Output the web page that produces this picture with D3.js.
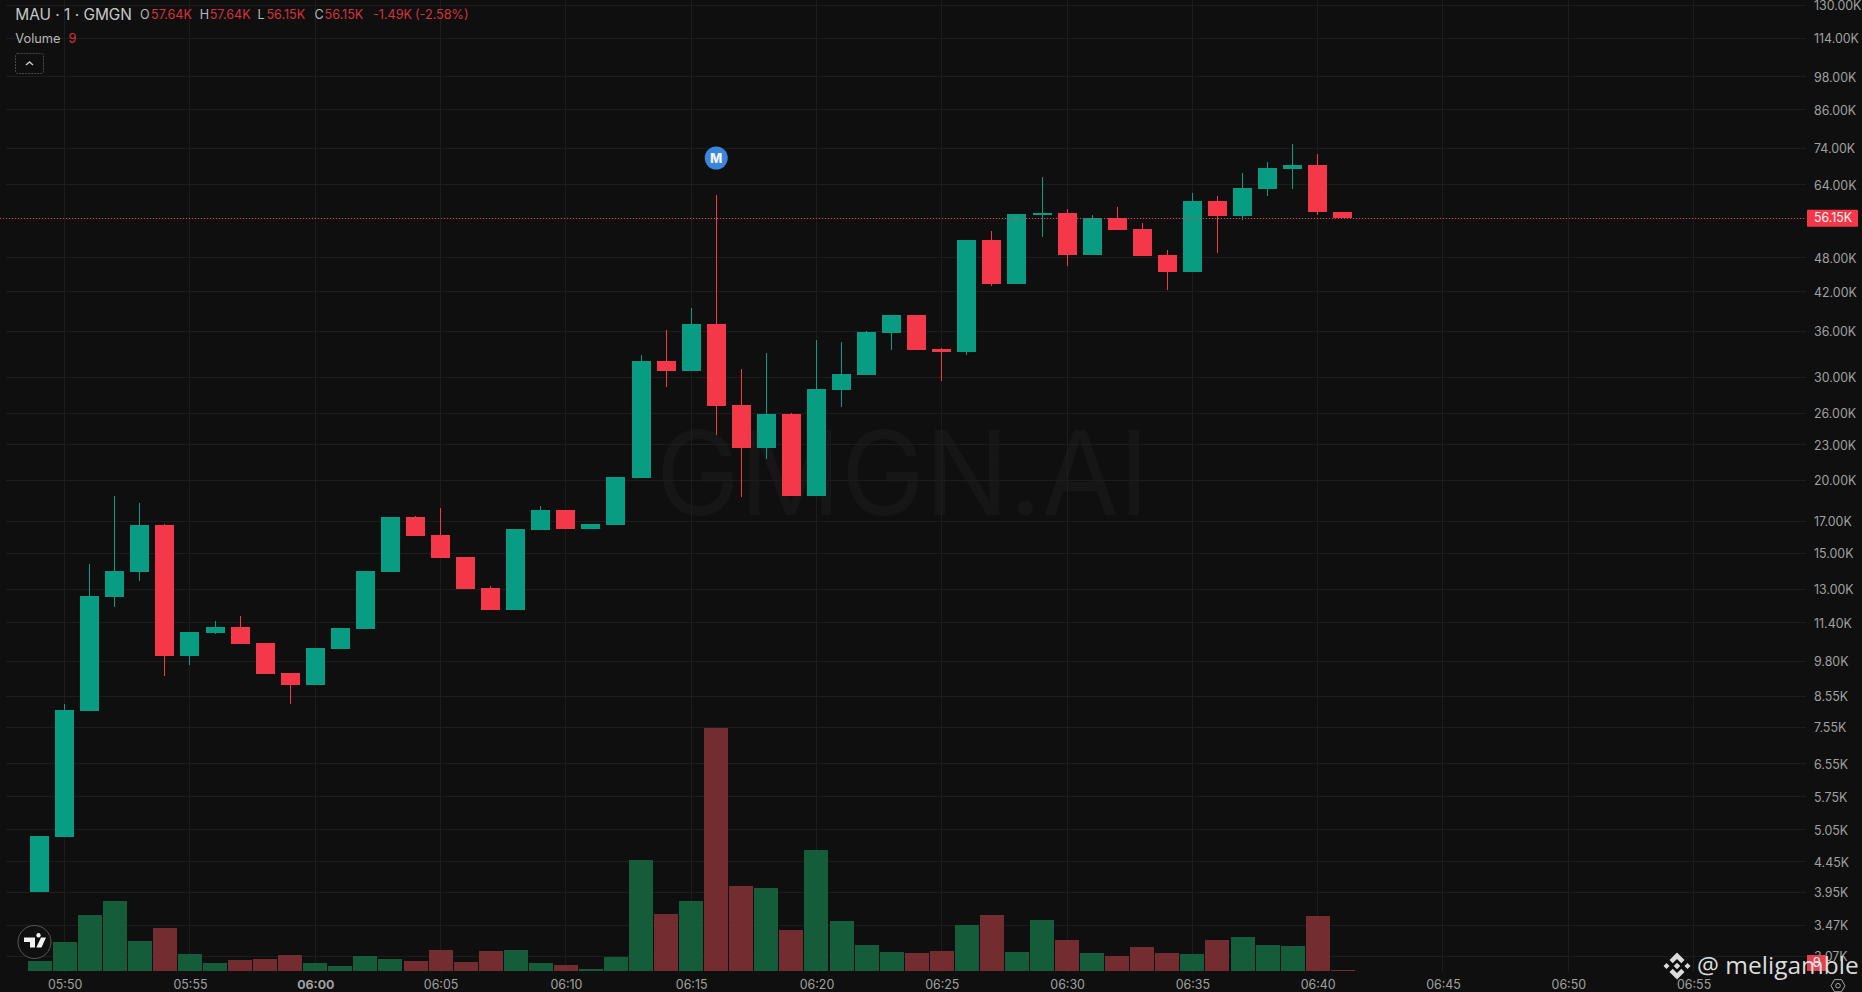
<!DOCTYPE html>
<html><head><meta charset="utf-8">
<script src="https://cdnjs.cloudflare.com/ajax/libs/d3/7.8.5/d3.min.js"></script>
<style>
html,body{margin:0;padding:0;background:#0f0f0f;overflow:hidden}
svg{display:block}
text{font-family:Inter,"Liberation Sans",sans-serif}
</style></head><body><svg id="c" width="1862" height="992"></svg>
<script>
// prices in thousands, one per minute starting 05:49
const opens =[3.95,4.90,8.07,12.65,13.95,16.79,10.02,10.97,11.24,10.55,9.37,8.94,10.30,11.14,13.95,17.33,16.13,14.80,13.10,12.02,16.46,17.81,16.52,16.79,20.20,32.01,30.77,37.03,26.92,22.73,25.98,18.82,28.56,30.29,35.74,38.36,33.56,33.16,51.54,43.34,56.87,57.31,48.59,56.20,53.82,48.59,45.44,60.09,56.65,63.00,68.16,69.24,57.64];
const highs =[4.92,8.27,14.40,18.82,18.31,16.85,11.01,11.51,11.73,10.55,9.37,10.34,11.19,14.01,17.33,17.39,17.95,14.80,13.21,16.52,18.09,17.81,16.85,20.28,32.77,36.16,39.44,61.53,31.02,33.03,26.09,34.77,34.49,36.02,38.36,38.36,33.69,51.54,53.40,57.09,66.05,58.22,56.87,58.69,55.11,49.56,62.02,61.28,67.10,70.07,75.22,72.31,57.64];
const lows  =[3.95,4.90,8.07,12.16,13.47,9.27,9.67,10.93,10.50,9.34,8.30,8.94,10.30,11.14,13.95,16.07,14.74,13.05,12.02,12.02,16.46,16.52,16.52,16.79,20.20,28.90,30.77,23.92,18.74,21.76,18.82,18.82,26.71,30.29,33.43,33.43,29.59,32.77,43.00,43.34,52.16,46.53,48.59,53.62,48.40,42.33,45.44,48.97,55.77,61.28,63.00,56.87,56.15];
const closes=[4.92,8.10,12.70,14.01,16.79,10.02,11.01,11.24,10.50,9.34,8.94,10.34,11.19,14.01,17.33,16.07,14.74,13.05,12.02,16.52,17.81,16.52,16.85,20.28,32.01,30.77,37.03,26.81,22.73,25.98,18.82,28.67,30.41,35.88,38.36,33.43,33.16,51.54,43.34,57.09,57.31,48.59,56.20,53.62,48.40,45.44,60.09,56.65,63.25,68.44,69.24,57.54,56.15];
const volumes=[100,290,560,700,300,430,170,80,110,120,160,80,50,150,120,100,210,90,200,210,80,60,20,140,1110,570,700,2430,850,830,410,1210,500,260,190,180,200,460,560,190,510,310,180,150,240,180,170,310,340,260,250,550,9];
const priceTicks=[130,114,98,86,74,64,48,42,36,30,26,23,20,17,15,13,11.4,9.8,8.55,7.55,6.55,5.75,5.05,4.45,3.95,3.47,3.07];
const hiddenGridPrices=[56];
const timeTicks=["05:50","05:55","06:00","06:05","06:10","06:15","06:20","06:25","06:30","06:35","06:40","06:45","06:50","06:55"];
const lastPrice=56.15, lastVolume=9, markerIndex=27;
const legendItems=[["O","57.64K"],["H","57.64K"],["L","56.15K"],["C","56.15K"]];
const legendChange="-1.49K", legendPct="(-2.58%)";

const GREEN="#089c82",RED="#f53849",VG="#16623f",VR="#7a3034",GRID="#1d1d1d",TXT="#a0a0a0";
const W=1862,H=992,plotL=6,plotR=1806,plotB=972;
const svg=d3.select("#c");
svg.append("rect").attr("width",W).attr("height",H).attr("fill","#0f0f0f");

const parse=d3.timeParse("%H:%M");
const minute=i=>d3.timeMinute.offset(parse("05:49"),i);
const x=d3.scaleTime().domain([parse("05:49"),parse("06:55")]).range([39.6,1693.6]);
const y=d3.scaleLog().domain([130,3.47]).range([5,925]);
const v=d3.scaleLinear().domain([0,d3.max(volumes)]).range([971,728]);
const idx=d3.range(opens.length);

// watermark
svg.append("text").attr("x",656).attr("y",515).attr("textLength",493).attr("lengthAdjust","spacingAndGlyphs")
 .attr("font-size",117).attr("fill","#161616").text("GMGN.AI");

// axes + grid
const yAxis=d3.axisRight(y).tickValues(priceTicks).tickFormat(d=>d.toFixed(2)+"K").tickSize(0).tickPadding(0);
const gy=svg.append("g").attr("transform",`translate(1814,0)`).call(yAxis);
gy.select(".domain").remove();
gy.selectAll("text").attr("fill",TXT).attr("font-size",12.4).attr("dy","0.35em").attr("x",0).attr("font-family",'Inter,"Liberation Sans",sans-serif');
const xAxis=d3.axisBottom(x).tickValues(timeTicks.map(parse)).tickFormat(d3.timeFormat("%H:%M")).tickSize(0).tickPadding(0);
const gx=svg.append("g").attr("transform","translate(0,985)").call(xAxis);
gx.select(".domain").remove();
gx.selectAll("text").attr("fill",TXT).attr("font-size",12.4).attr("dy","0.35em").attr("y",0)
 .attr("font-weight",d=>d3.timeFormat("%H:%M")(d)==="06:00"?700:400)
 .attr("font-family",'Inter,"Liberation Sans",sans-serif');

const grid=svg.append("g").attr("shape-rendering","crispEdges").attr("stroke",GRID);
grid.selectAll(".h").data(priceTicks.concat(hiddenGridPrices)).join("line").attr("x1",plotL).attr("x2",plotR)
 .attr("y1",d=>Math.floor(y(d))+.5).attr("y2",d=>Math.floor(y(d))+.5);
grid.selectAll(".v").data(timeTicks).join("line")
 .attr("x1",d=>Math.floor(x(parse(d)))+.5).attr("x2",d=>Math.floor(x(parse(d)))+.5).attr("y1",0).attr("y2",plotB);

// volume
svg.append("g").attr("shape-rendering","crispEdges").attr("fill-opacity",.94).selectAll("rect").data(idx).join("rect")
 .attr("x",i=>x(minute(i))-12).attr("width",24)
 .attr("y",i=>v(volumes[i])).attr("height",i=>971-v(volumes[i]))
 .attr("fill",i=>closes[i]>=opens[i]?VG:VR);

// candles
const cg=svg.append("g").attr("shape-rendering","crispEdges");
cg.selectAll("line").data(idx).join("line")
 .attr("x1",i=>Math.floor(x(minute(i)))+.5).attr("x2",i=>Math.floor(x(minute(i)))+.5)
 .attr("y1",i=>y(highs[i])).attr("y2",i=>y(lows[i]))
 .attr("stroke",i=>closes[i]>=opens[i]?GREEN:RED);
cg.selectAll("rect").data(idx).join("rect")
 .attr("x",i=>x(minute(i))-9.5).attr("width",19)
 .attr("y",i=>y(Math.max(opens[i],closes[i])))
 .attr("height",i=>Math.max(2,y(Math.min(opens[i],closes[i]))-y(Math.max(opens[i],closes[i]))))
 .attr("fill",i=>closes[i]>=opens[i]?GREEN:RED);

// last price line + label
svg.append("line").attr("x1",0).attr("x2",plotR).attr("y1",Math.floor(y(lastPrice))+.5).attr("y2",Math.floor(y(lastPrice))+.5)
 .attr("stroke",RED).attr("stroke-dasharray","1 2");
svg.append("rect").attr("x",1807).attr("y",y(lastPrice)-8.5).attr("width",51).attr("height",17).attr("rx",1).attr("fill",RED);
svg.append("text").attr("x",1814).attr("y",y(lastPrice)).attr("dy","0.35em").attr("font-size",12.4).attr("fill","#f4f4f4").text(lastPrice.toFixed(2)+"K");
svg.append("rect").attr("x",1807).attr("y",955).attr("width",20).attr("height",16).attr("fill","#e0414f");
svg.append("text").attr("x",1813).attr("y",963).attr("dy","0.35em").attr("font-size",12.4).attr("fill","#f4f4f4").text(lastVolume);

// M marker
const mx=x(minute(markerIndex));
svg.append("circle").attr("cx",mx).attr("cy",158).attr("r",11.5).attr("fill","#3b86dc");
svg.append("text").attr("x",mx).attr("y",158).attr("dy","0.36em").attr("text-anchor","middle").attr("font-size",13).attr("font-weight",800).attr("fill","#f2f2f2").text("M");

// legend
svg.append("text").attr("x",15.3).attr("y",20).attr("font-size",15.4).attr("fill","#c8c8c8").text("MAU · 1 · GMGN");
const lx=[140,199.8,257.6,314.6];
const lv=[151,209.7,266.4,324.5];
legendItems.forEach((d,i)=>{
 svg.append("text").attr("x",lx[i]).attr("y",19.4).attr("font-size",12.6).attr("fill","#b8b8b8").text(d[0]);
 svg.append("text").attr("x",lv[i]).attr("y",19.4).attr("font-size",12.6).attr("fill","#d8303f").text(d[1]);
});
svg.append("text").attr("x",373).attr("y",19.4).attr("font-size",12.6).attr("fill","#d8303f").text(legendChange);
svg.append("text").attr("x",415).attr("y",19.4).attr("font-size",12.6).attr("fill","#d8303f").text(legendPct);
svg.append("text").attr("x",15.3).attr("y",43.2).attr("font-size",12.8).attr("fill","#b8b8b8").text("Volume");
svg.append("text").attr("x",68.5).attr("y",43.2).attr("font-size",12.8).attr("fill","#d8303f").text(lastVolume);
svg.append("rect").attr("x",15.5).attr("y",53.5).attr("width",28).attr("height",20).attr("rx",2).attr("fill","none").attr("stroke","#4a4a4a").attr("stroke-dasharray","2 1");
svg.append("path").attr("d","M26 65 L29.5 62 L33 65").attr("fill","none").attr("stroke","#c8c8c8").attr("stroke-width",1.4);

// TV badge
svg.append("circle").attr("cx",34.5).attr("cy",942).attr("r",16.5).attr("fill","#0f0f0f").attr("stroke","#5a5a5a").attr("stroke-width",1);
svg.append("path").attr("fill","#f2f2f2").attr("d","M24 937.5h11v10h-5v-5.5h-6z M38.5 937.5a2.2 2.2 0 1 1 0.01 0 z M41 937.5h5l-4.5 10h-5.2z");

// corner settings + binance-style signature
const hex=d3.range(6).map(k=>{const a=Math.PI/3*k;return [1838+7*Math.cos(a),985.7+7*Math.sin(a)];});
svg.append("path").attr("d",d3.line()(hex)+"Z").attr("fill","none").attr("stroke","#a8a8a8");
svg.append("circle").attr("cx",1838).attr("cy",985.7).attr("r",2.3).attr("fill","none").attr("stroke","#a8a8a8");
svg.append("path").attr("fill","#dcdcdc").attr("d",
 "M1677 952.5l7.5 7.5-3.2 3.2-4.3-4.3-4.3 4.3-3.2-3.2z"+
 "M1677 979.5l7.5-7.5-3.2-3.2-4.3 4.3-4.3-4.3-3.2 3.2z"+
 "M1677 962.7l3.3 3.3-3.3 3.3-3.3-3.3z"+
 "M1666.5 963l3 3-3 3-3-3z"+
 "M1687.5 963l3 3-3 3-3-3z");
svg.append("text").attr("x",1697).attr("y",974).attr("font-size",24.5).attr("fill","#dcdcdc")
 .style("font-family",'"Open Sans",sans-serif').text("@ meligamble");
</script></body></html>
